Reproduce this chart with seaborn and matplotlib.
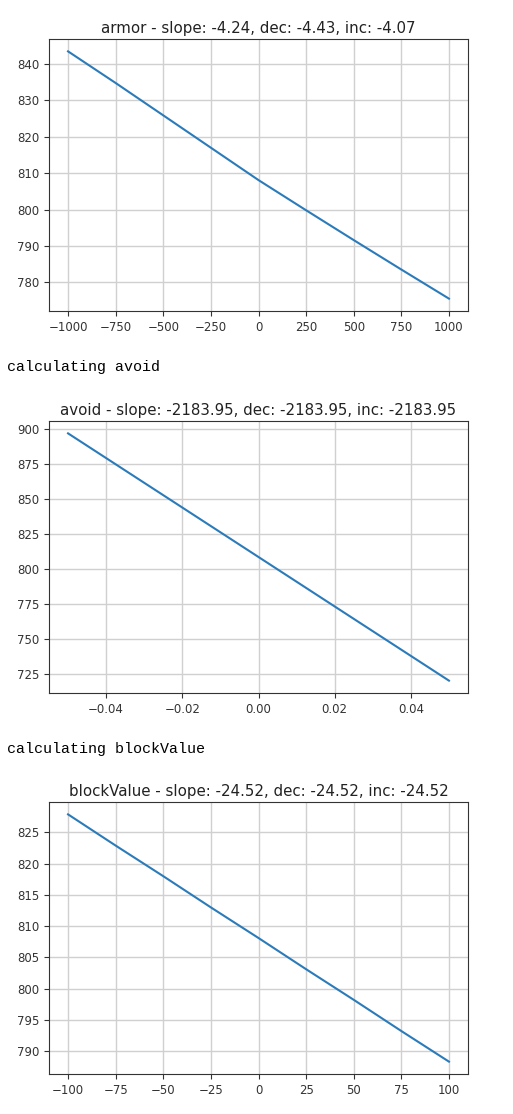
import matplotlib
matplotlib.use("Agg")
import matplotlib.pyplot as plt
import seaborn as sns

# armor sweep
armor_x = [-1000, -750, -500, -250, 0, 250, 500, 750, 1000]
armor_y = [843.5, 834.8, 825.9, 817.0, 808.1, 799.8, 791.6, 783.5, 775.5]
armor_title = "armor - slope: -4.24, dec: -4.43, inc: -4.07"

# avoid sweep
avoid_x = [-0.05, -0.04, -0.03, -0.02, -0.01, 0.0, 0.01, 0.02, 0.03, 0.04, 0.05]
avoid_y = [897.0, 879.3, 861.6, 843.9, 826.2, 808.5, 790.8, 773.1, 755.4, 737.7, 720.0]
avoid_title = "avoid - slope: -2183.95, dec: -2183.95, inc: -2183.95"

# blockValue sweep
block_x = [-100, -75, -50, -25, 0, 25, 50, 75, 100]
block_y = [827.9, 822.9, 818.0, 813.0, 808.1, 803.1, 798.2, 793.2, 788.3]
block_title = "blockValue - slope: -24.52, dec: -24.52, inc: -24.52"

captions = ["calculating avoid", "calculating blockValue"]

fig = plt.figure(figsize=(5.13, 11.14), dpi=100)

W, H = 513, 1114
def make_ax(top, bottom):
    return fig.add_axes([49 / W, 1 - bottom / H, 419 / W, (bottom - top) / H])

ax1 = make_ax(39, 311)
ax2 = make_ax(421, 693)
ax3 = make_ax(802, 1074)

for ax, x, y, t in [(ax1, armor_x, armor_y, armor_title),
                    (ax2, avoid_x, avoid_y, avoid_title),
                    (ax3, block_x, block_y, block_title)]:
    sns.lineplot(x=x, y=y, ax=ax, color="#2b7bba", linewidth=1.5)
    ax.grid(True, color="#d0d0d0", linewidth=1)
    ax.set_axisbelow(True)
    ax.set_title(t, fontsize=10.8, pad=4, color="#222222")
    ax.tick_params(labelsize=8.5, colors="#333333")
    for s in ax.spines.values():
        s.set_color("#333333")

ax1.set_xticks([-1000, -750, -500, -250, 0, 250, 500, 750, 1000])
ax2.set_xticks([-0.04, -0.02, 0.0, 0.02, 0.04])
ax3.set_xticks([-100, -75, -50, -25, 0, 25, 50, 75, 100])

fig.text(7 / W, 1 - 367 / H, captions[0], family="Liberation Mono", fontsize=10.8, va="center")
fig.text(7 / W, 1 - 749 / H, captions[1], family="Liberation Mono", fontsize=10.8, va="center")

fig.savefig("out.png", dpi=100)
